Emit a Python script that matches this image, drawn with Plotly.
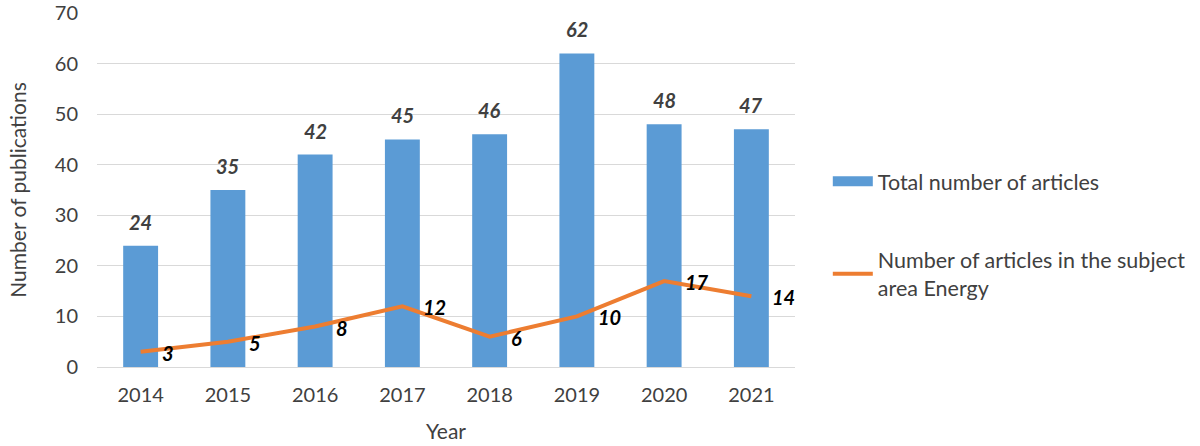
import plotly.graph_objects as go

years = ["2014", "2015", "2016", "2017", "2018", "2019", "2020", "2021"]
total_articles = [24, 35, 42, 45, 46, 62, 48, 47]
energy_articles = [3, 5, 8, 12, 6, 10, 17, 14]

FONT = "Lato"
BAR_COLOR = "#5B9BD5"
LINE_COLOR = "#ED7D31"
TEXT_COLOR = "#404040"

fig = go.Figure()
fig.add_trace(go.Bar(
    x=years, y=total_articles, name="Total number of articles",
    marker=dict(color=BAR_COLOR, line=dict(width=0)),
    showlegend=False,
))
# legend swatch (wide rectangle like the reference)
fig.add_trace(go.Scatter(
    x=[years[0]], y=[None], mode="lines", name="Total number of articles",
    line=dict(color=BAR_COLOR, width=11), legend="legend", hoverinfo="skip",
))
fig.add_trace(go.Scatter(
    x=years, y=energy_articles, mode="lines",
    name="Number of articles in the subject<br>area Energy",
    line=dict(color=LINE_COLOR, width=4),
    legend="legend2",
))

annotations = []
for i, v in enumerate(total_articles):
    annotations.append(dict(x=i, y=v, text=f"<b><i>{v}</i></b>", showarrow=False,
                            yshift=24, font=dict(family=FONT, size=20, color=TEXT_COLOR)))
for i, v in enumerate(energy_articles):
    annotations.append(dict(x=i, y=v, text=f"<b><i>{v}</i></b>", showarrow=False,
                            xanchor="left", xshift=19, yshift=-1,
                            font=dict(family=FONT, size=20, color="#000000")))

fig.update_layout(
    width=1200, height=446,
    margin=dict(l=97, r=405, t=13, b=79, autoexpand=False),
    paper_bgcolor="white", plot_bgcolor="white",
    font=dict(family=FONT, size=20, color=TEXT_COLOR),
    bargap=0.6,
    showlegend=True,
    legend=dict(x=1.047, y=0.525, xanchor="left", yanchor="middle",
                font=dict(family=FONT, size=21.5, color=TEXT_COLOR),
                bgcolor="rgba(0,0,0,0)", itemwidth=40),
    legend2=dict(x=1.047, y=0.263, xanchor="left", yanchor="middle",
                 font=dict(family=FONT, size=21.5, color=TEXT_COLOR),
                 bgcolor="rgba(0,0,0,0)", itemwidth=40),
    xaxis=dict(type="category", categoryorder="array", categoryarray=years,
               range=[-0.5, len(years) - 0.5],
               title=dict(text="Year", font=dict(size=21, color=TEXT_COLOR), standoff=19),
               showgrid=False, showline=False, ticks="", ticklabelstandoff=14,
               tickfont=dict(size=20, color=TEXT_COLOR)),
    yaxis=dict(title=dict(text="Number of publications", font=dict(size=21, color=TEXT_COLOR), standoff=22),
               range=[0, 70], dtick=10, showgrid=True, gridcolor="#D9D9D9", gridwidth=1,
               zeroline=True, zerolinecolor="#D9D9D9", zerolinewidth=1,
               showline=False, ticks="", ticklabelstandoff=18,
               tickfont=dict(size=20, color=TEXT_COLOR)),
    annotations=annotations,
)

fig.write_html("out.html", config={"displayModeBar": False},
               post_script="document.body.style.margin='0';document.body.style.overflow='hidden';")
